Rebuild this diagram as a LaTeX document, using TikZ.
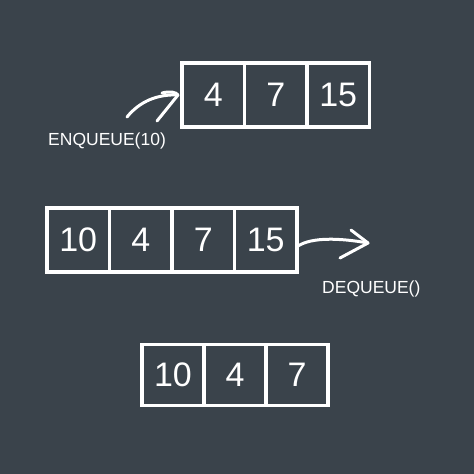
\documentclass[tikz,border=0pt]{standalone}
\usepackage{fontspec}
\setmainfont{Liberation Sans}
\definecolor{bgc}{HTML}{3A434B}
\tikzset{
  cell/.style={draw=white, line width=3.5pt, minimum width=62.5pt, minimum height=64pt, inner sep=0pt, outer sep=0pt, text=white, font=\fontsize{34}{36}\selectfont},
  lbl/.style={text=white, inner sep=0pt, font=\fontsize{17.5}{20}\selectfont},
  hand/.style={draw=white, line width=3pt, line cap=round, line join=round}
}
\begin{document}
\begin{tikzpicture}[x=1pt,y=-1pt]
\fill[bgc] (0,0) rectangle (474,474);
\useasboundingbox (0,0) rectangle (474,474);
% top row
\node[cell] (t1) at (213.25,95) {4};
\node[cell] (t2) at (275.75,95) {7};
\node[cell] (t3) at (338.25,95) {15};
% middle row
\node[cell] (m1) at (78.25,240) {10};
\node[cell] (m2) at (140.75,240) {4};
\node[cell] (m3) at (203.25,240) {7};
\node[cell] (m4) at (265.75,240) {15};
% bottom row
\node[cell, minimum width=62pt, minimum height=61pt] (b1) at (173,375) {10};
\node[cell, minimum width=62pt, minimum height=61pt] (b2) at (235,375) {4};
\node[cell, minimum width=62pt, minimum height=61pt] (b3) at (297,375) {7};
% labels
\node[lbl, anchor=base west] (enq) at (48,145) {ENQUEUE(10)};
\node[lbl, anchor=base west] (deq) at (322,293) {DEQUEUE()};
% enqueue arrow
\coordinate (etail) at (127,117);
\coordinate (etip) at (178,95);
\coordinate (eb1) at (162,93);
\coordinate (eb2) at (157,121);
\draw[hand] (etail) .. controls (140,101) and (158,94) .. (etip);
\draw[hand] (eb1) .. controls (170,91) and (176,92) .. (etip) -- (eb2);
% dequeue arrow
\coordinate (dtail) at (298,246);
\coordinate (dtip) at (368,243);
\coordinate (db1) at (351,230);
\coordinate (db2) at (340,258);
\draw[hand] (dtail) .. controls (312,237) and (340,238) .. (dtip);
\draw[hand] (db1) -- (dtip) -- (db2);
\end{tikzpicture}
\end{document}
